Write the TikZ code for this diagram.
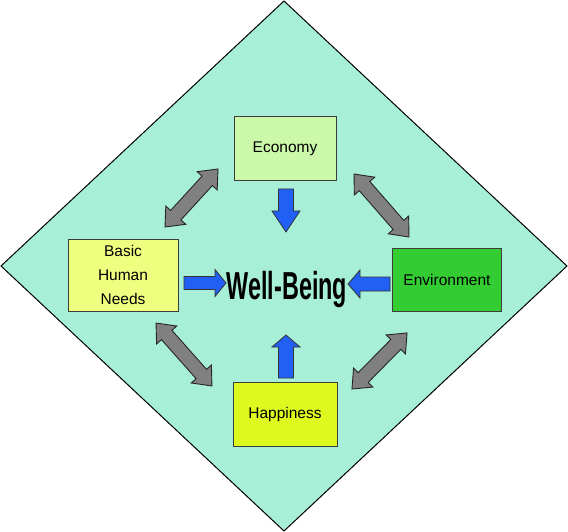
\documentclass[tikz,border=0pt]{standalone}
\usepackage{fontspec}
\setmainfont{Liberation Sans}
\definecolor{mint}{RGB}{168,239,216}
\definecolor{econ}{RGB}{204,248,170}
\definecolor{basic}{RGB}{238,255,128}
\definecolor{happy}{RGB}{221,249,30}
\definecolor{envi}{RGB}{51,204,51}
\definecolor{arrblue}{RGB}{34,96,245}
\definecolor{arrgray}{RGB}{128,128,128}
\definecolor{edge}{RGB}{60,60,60}
\tikzset{
  box/.style={draw=edge, line width=1pt, inner sep=0pt, align=center,
    font=\fontsize{15.5}{24}\selectfont},
  bluearr/.style={draw=black!80, line width=0.8pt, fill=arrblue, line join=miter},
  grayarr/.style={draw=black!85, line width=0.9pt, fill=arrgray, line join=miter},
}
\newcommand\dblarrow[4]{%
  \begin{scope}[shift={(#1,#2)},rotate=#3]
    \draw[grayarr] (-#4,0) -- ({-#4+16},13.5) -- ({-#4+16},7) -- ({#4-16},7)
      -- ({#4-16},13.5) -- (#4,0) -- ({#4-16},-13.5) -- ({#4-16},-7)
      -- ({-#4+16},-7) -- ({-#4+16},-13.5) -- cycle;
  \end{scope}}
\begin{document}
\begin{tikzpicture}[x=1pt,y=-1pt]
\useasboundingbox (0,0) rectangle (568,532);
% diamond background
\draw[fill=mint, line width=1pt] (284,1) -- (567,266) -- (284,531) -- (1,266) -- cycle;
% boxes
\node[box, fill=econ, minimum width=102pt, minimum height=64pt] (econ) at (285,149) {Economy};
\node[box, fill=basic, minimum width=110pt, minimum height=72pt] (basic) at (123,275) {Basic\\Human\\Needs};
\node[box, fill=envi, minimum width=109pt, minimum height=63pt] (envi) at (447,280) {Environment};
\node[box, fill=happy, minimum width=104pt, minimum height=64pt] (happy) at (285,414) {Happiness};
% center text
\node[anchor=base, inner sep=0pt] (wb) at (287,299)
  {\scalebox{0.6}[1]{\fontsize{39}{39}\selectfont\bfseries Well-Being}};
% blue arrows
\draw[bluearr] (278.5,189) -- (293.5,189) -- (293.5,211) -- (300,211) -- (286,232) -- (272,211) -- (278.5,211) -- cycle;
\draw[bluearr] (278.5,378) -- (293.5,378) -- (293.5,347) -- (300,347) -- (286,335) -- (272,347) -- (278.5,347) -- cycle;
\draw[bluearr] (184,276.5) -- (215,276.5) -- (215,269.5) -- (226,283) -- (215,296.5) -- (215,289.5) -- (184,289.5) -- cycle;
\draw[bluearr] (390,277) -- (360,277) -- (360,270) -- (348,284) -- (360,298) -- (360,291) -- (390,291) -- cycle;
% gray double arrows
\dblarrow{191.5}{198}{47.6}{39.3}
\dblarrow{381.5}{205.5}{-48.9}{41.8}
\dblarrow{184}{354.5}{-48.4}{42.1}
\dblarrow{379.5}{361}{45.5}{39.3}
\end{tikzpicture}
\end{document}
